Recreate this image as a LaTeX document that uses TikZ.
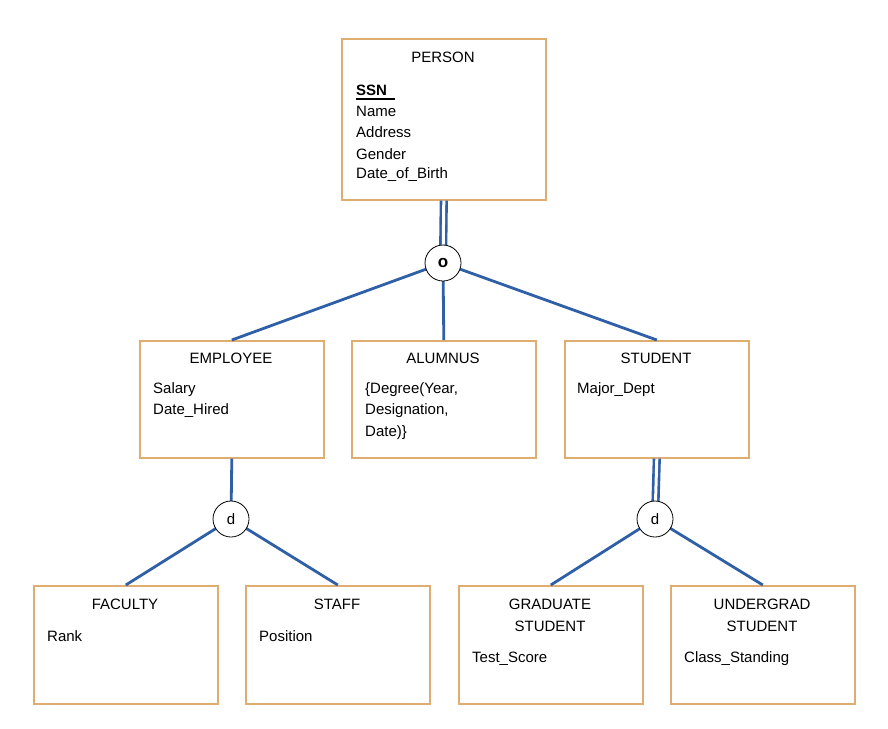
\documentclass[tikz,border=0pt]{standalone}
\usepackage{fontspec}
\setmainfont{Liberation Sans}
\begin{document}
\begin{tikzpicture}[x=1pt,y=-1pt,
  ent/.style={draw=boxc,line width=1.6pt,fill=white,minimum width=184pt,anchor=north west,inner sep=0pt},
  ln/.style={draw=lnc,line width=2.8pt},
  dbl/.style={draw=lnc,line width=2.6pt,double=white,double distance=3pt},
  circ/.style={circle,draw=black,line width=0.8pt,fill=white,minimum size=36pt,inner sep=0pt},
  txt/.style={anchor=west,inner sep=0pt,font=\fontsize{15}{18}\selectfont},
  ttl/.style={inner sep=0pt,font=\fontsize{15}{18}\selectfont}]
\definecolor{boxc}{HTML}{E0AD70}
\definecolor{lnc}{HTML}{2F5FA6}
\useasboundingbox (0,0) rectangle (888,728);
% boxes
\node[ent,minimum width=204pt,minimum height=161pt] (person) at (341,38) {};
\node[ent,minimum height=117pt] (emp) at (139,340) {};
\node[ent,minimum height=117pt] (alu) at (351,340) {};
\node[ent,minimum height=117pt] (stu) at (564,340) {};
\node[ent,minimum height=118pt] (fac) at (33,585) {};
\node[ent,minimum height=118pt] (sta) at (245,585) {};
\node[ent,minimum height=118pt] (gra) at (458,585) {};
\node[ent,minimum height=118pt] (und) at (670,585) {};
% connectors
\coordinate (oc) at (443,263);
\coordinate (d1c) at (231,519);
\coordinate (d2c) at (655,519);
\draw[dbl] (person.south) -- (oc);
\draw[ln] (oc) -- (emp.north);
\draw[ln] (oc) -- (alu.north);
\draw[ln] (oc) -- (stu.north);
\draw[ln] (emp.south) -- (d1c);
\draw[ln] (d1c) -- (fac.north);
\draw[ln] (d1c) -- (sta.north);
\draw[dbl] (stu.south) -- (d2c);
\draw[ln] (d2c) -- (gra.north);
\draw[ln] (d2c) -- (und.north);
% circles
\node[circ,font=\fontsize{17}{18}\selectfont\bfseries] (o) at (oc) {o};
\node[circ,font=\fontsize{15}{18}\selectfont] (d1) at (d1c) {d};
\node[circ,font=\fontsize{15}{18}\selectfont] (d2) at (d2c) {d};
% texts
\node[ttl] (t1) at (443,57) {PERSON};
\node[txt] (a1) at (356,90) {\textbf{SSN}};
\draw[line width=1.3pt] (356,99) -- (395,99);
\node[txt] (a2) at (356,111) {Name};
\node[txt] (a3) at (356,132) {Address};
\node[txt] (a4) at (356,154) {Gender};
\node[txt] (a5) at (356,175) {Date\_of\_Birth};
\node[ttl] (t2) at (231,358) {EMPLOYEE};
\node[txt] (b1) at (153,390) {Salary};
\node[txt] (b2) at (153,411) {Date\_Hired};
\node[ttl] (t3) at (443,358) {ALUMNUS};
\node[txt] (c1) at (365,390) {\{Degree(Year,};
\node[txt] (c2) at (365,411) {Designation,};
\node[txt] (c3) at (365,433) {Date)\}};
\node[ttl] (t4) at (656,358) {STUDENT};
\node[txt] (e1) at (577,390) {Major\_Dept};
\node[ttl] (t5) at (125,604) {FACULTY};
\node[txt] (f1) at (47,636) {Rank};
\node[ttl] (t6) at (337,604) {STAFF};
\node[txt] (g1) at (259,636) {Position};
\node[ttl] (t7) at (550,604) {GRADUATE};
\node[ttl] (t7b) at (550,626) {STUDENT};
\node[txt] (h1) at (472,659) {Test\_Score};
\node[ttl] (t8) at (762,604) {UNDERGRAD};
\node[ttl] (t8b) at (762,626) {STUDENT};
\node[txt] (i1) at (684,659) {Class\_Standing};
\end{tikzpicture}
\end{document}
